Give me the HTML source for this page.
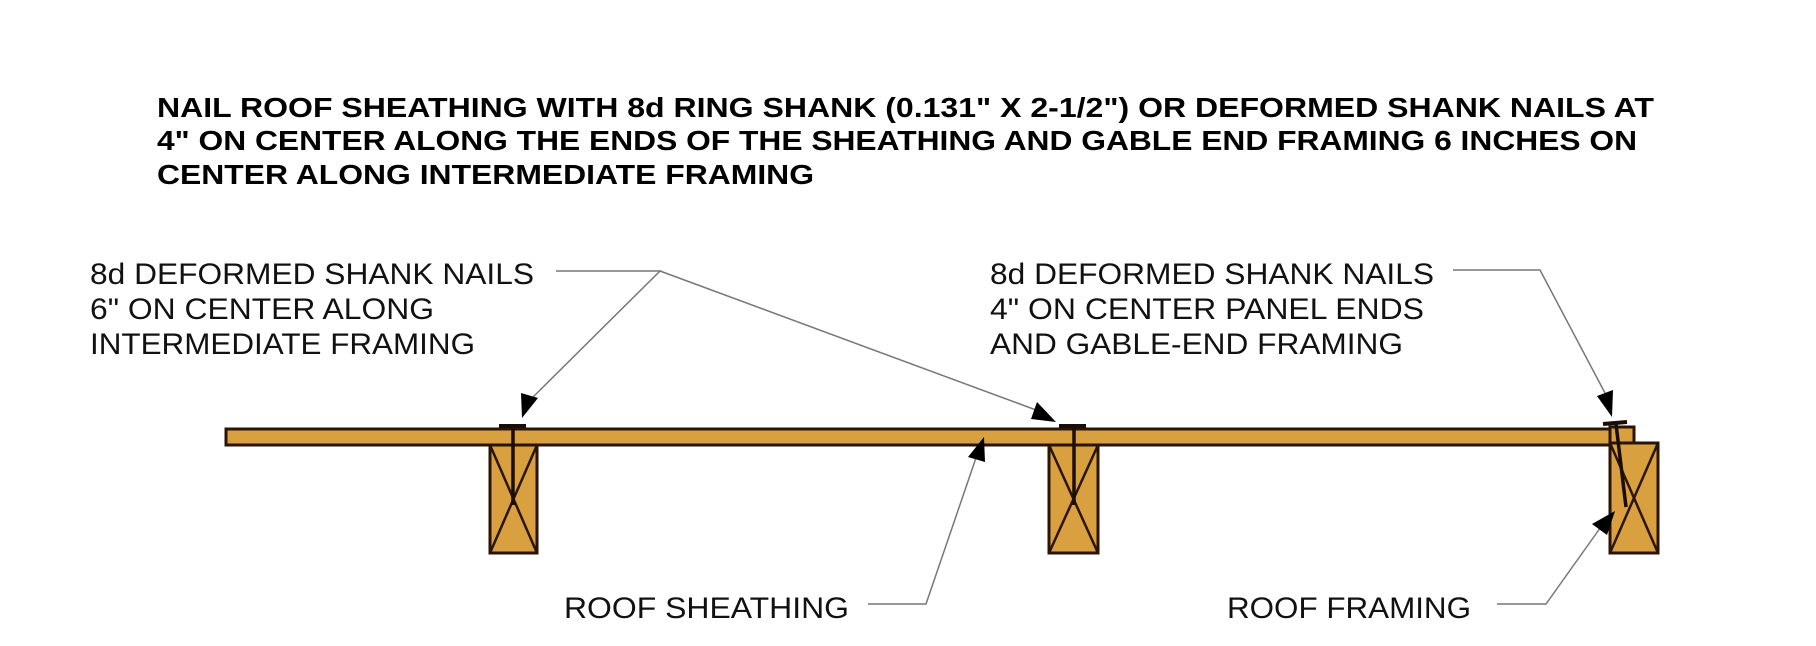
<!DOCTYPE html>
<html><head><meta charset="utf-8"><style>html,body{margin:0;padding:0;background:#fff}svg{display:block}</style></head>
<body>
<svg width="1816" height="646" viewBox="0 0 1816 646" xmlns="http://www.w3.org/2000/svg">
<g font-family="Liberation Sans, Arial, sans-serif" font-weight="bold" font-size="28" fill="#000">
<text x="157" y="117" textLength="1497" lengthAdjust="spacingAndGlyphs">NAIL ROOF SHEATHING WITH 8d RING SHANK (0.131" X 2-1/2") OR DEFORMED SHANK NAILS AT</text>
<text x="157" y="150" textLength="1480" lengthAdjust="spacingAndGlyphs">4" ON CENTER ALONG THE ENDS OF THE SHEATHING AND GABLE END FRAMING 6 INCHES ON</text>
<text x="157" y="184" textLength="657" lengthAdjust="spacingAndGlyphs">CENTER ALONG INTERMEDIATE FRAMING</text>
</g>
<g font-family="Liberation Sans, Arial, sans-serif" font-size="30" fill="#111">
<text x="90" y="284" textLength="444" lengthAdjust="spacingAndGlyphs">8d DEFORMED SHANK NAILS</text>
<text x="90" y="319" textLength="344" lengthAdjust="spacingAndGlyphs">6" ON CENTER ALONG</text>
<text x="90" y="354" textLength="385" lengthAdjust="spacingAndGlyphs">INTERMEDIATE FRAMING</text>
<text x="990" y="284" textLength="444" lengthAdjust="spacingAndGlyphs">8d DEFORMED SHANK NAILS</text>
<text x="990" y="319" textLength="434" lengthAdjust="spacingAndGlyphs">4" ON CENTER PANEL ENDS</text>
<text x="990" y="354" textLength="413" lengthAdjust="spacingAndGlyphs">AND GABLE-END FRAMING</text>
<text x="564" y="618" textLength="285" lengthAdjust="spacingAndGlyphs">ROOF SHEATHING</text>
<text x="1227" y="618" textLength="244" lengthAdjust="spacingAndGlyphs">ROOF FRAMING</text>
</g>
<g stroke="#777" stroke-width="1.5" fill="none">
<polyline points="556,271 660,271 528,402"/>
<line x1="660" y1="271" x2="1036" y2="410"/>
<polyline points="1453,270 1540,270 1605,393"/>
<polyline points="868,604 926,604 978,452"/>
<polyline points="1497,604 1546,604 1603,524"/>
</g>
<g fill="#D9A03F" stroke="#2a1505" stroke-width="3">
<rect x="226" y="429" width="1408" height="16"/>
<rect x="1610" y="427" width="24" height="18"/>
<rect x="490" y="445" width="47" height="108"/>
<rect x="1049" y="445" width="49" height="108"/>
<rect x="1610" y="443" width="48" height="110"/>
</g>
<g stroke="#2a1505" stroke-width="2.5">
<line x1="490" y1="445" x2="537" y2="553"/><line x1="537" y1="445" x2="490" y2="553"/>
<line x1="1049" y1="445" x2="1098" y2="553"/><line x1="1098" y1="445" x2="1049" y2="553"/>
<line x1="1610" y1="443" x2="1658" y2="553"/><line x1="1658" y1="443" x2="1610" y2="553"/>
</g>
<g stroke="#1a0d03">
<line x1="499" y1="426" x2="526" y2="426" stroke-width="4"/>
<line x1="513" y1="426" x2="513" y2="505" stroke-width="3.5"/>
<line x1="1059" y1="426" x2="1086" y2="426" stroke-width="4"/>
<line x1="1074" y1="426" x2="1074" y2="505" stroke-width="3.5"/>
<line x1="1603" y1="424" x2="1627" y2="422" stroke-width="4"/>
<line x1="1616" y1="424" x2="1626" y2="507" stroke-width="3.5"/>
</g>
<g fill="#000">
<polygon points="522,418 521,393 538,398"/>
<polygon points="1056,422 1031,419 1037,402"/>
<polygon points="1612,417 1597,396 1613,390"/>
<polygon points="984,437 985,462 968,457"/>
<polygon points="1615,511 1607,535 1592,524"/>
</g>
</svg>
</body></html>
